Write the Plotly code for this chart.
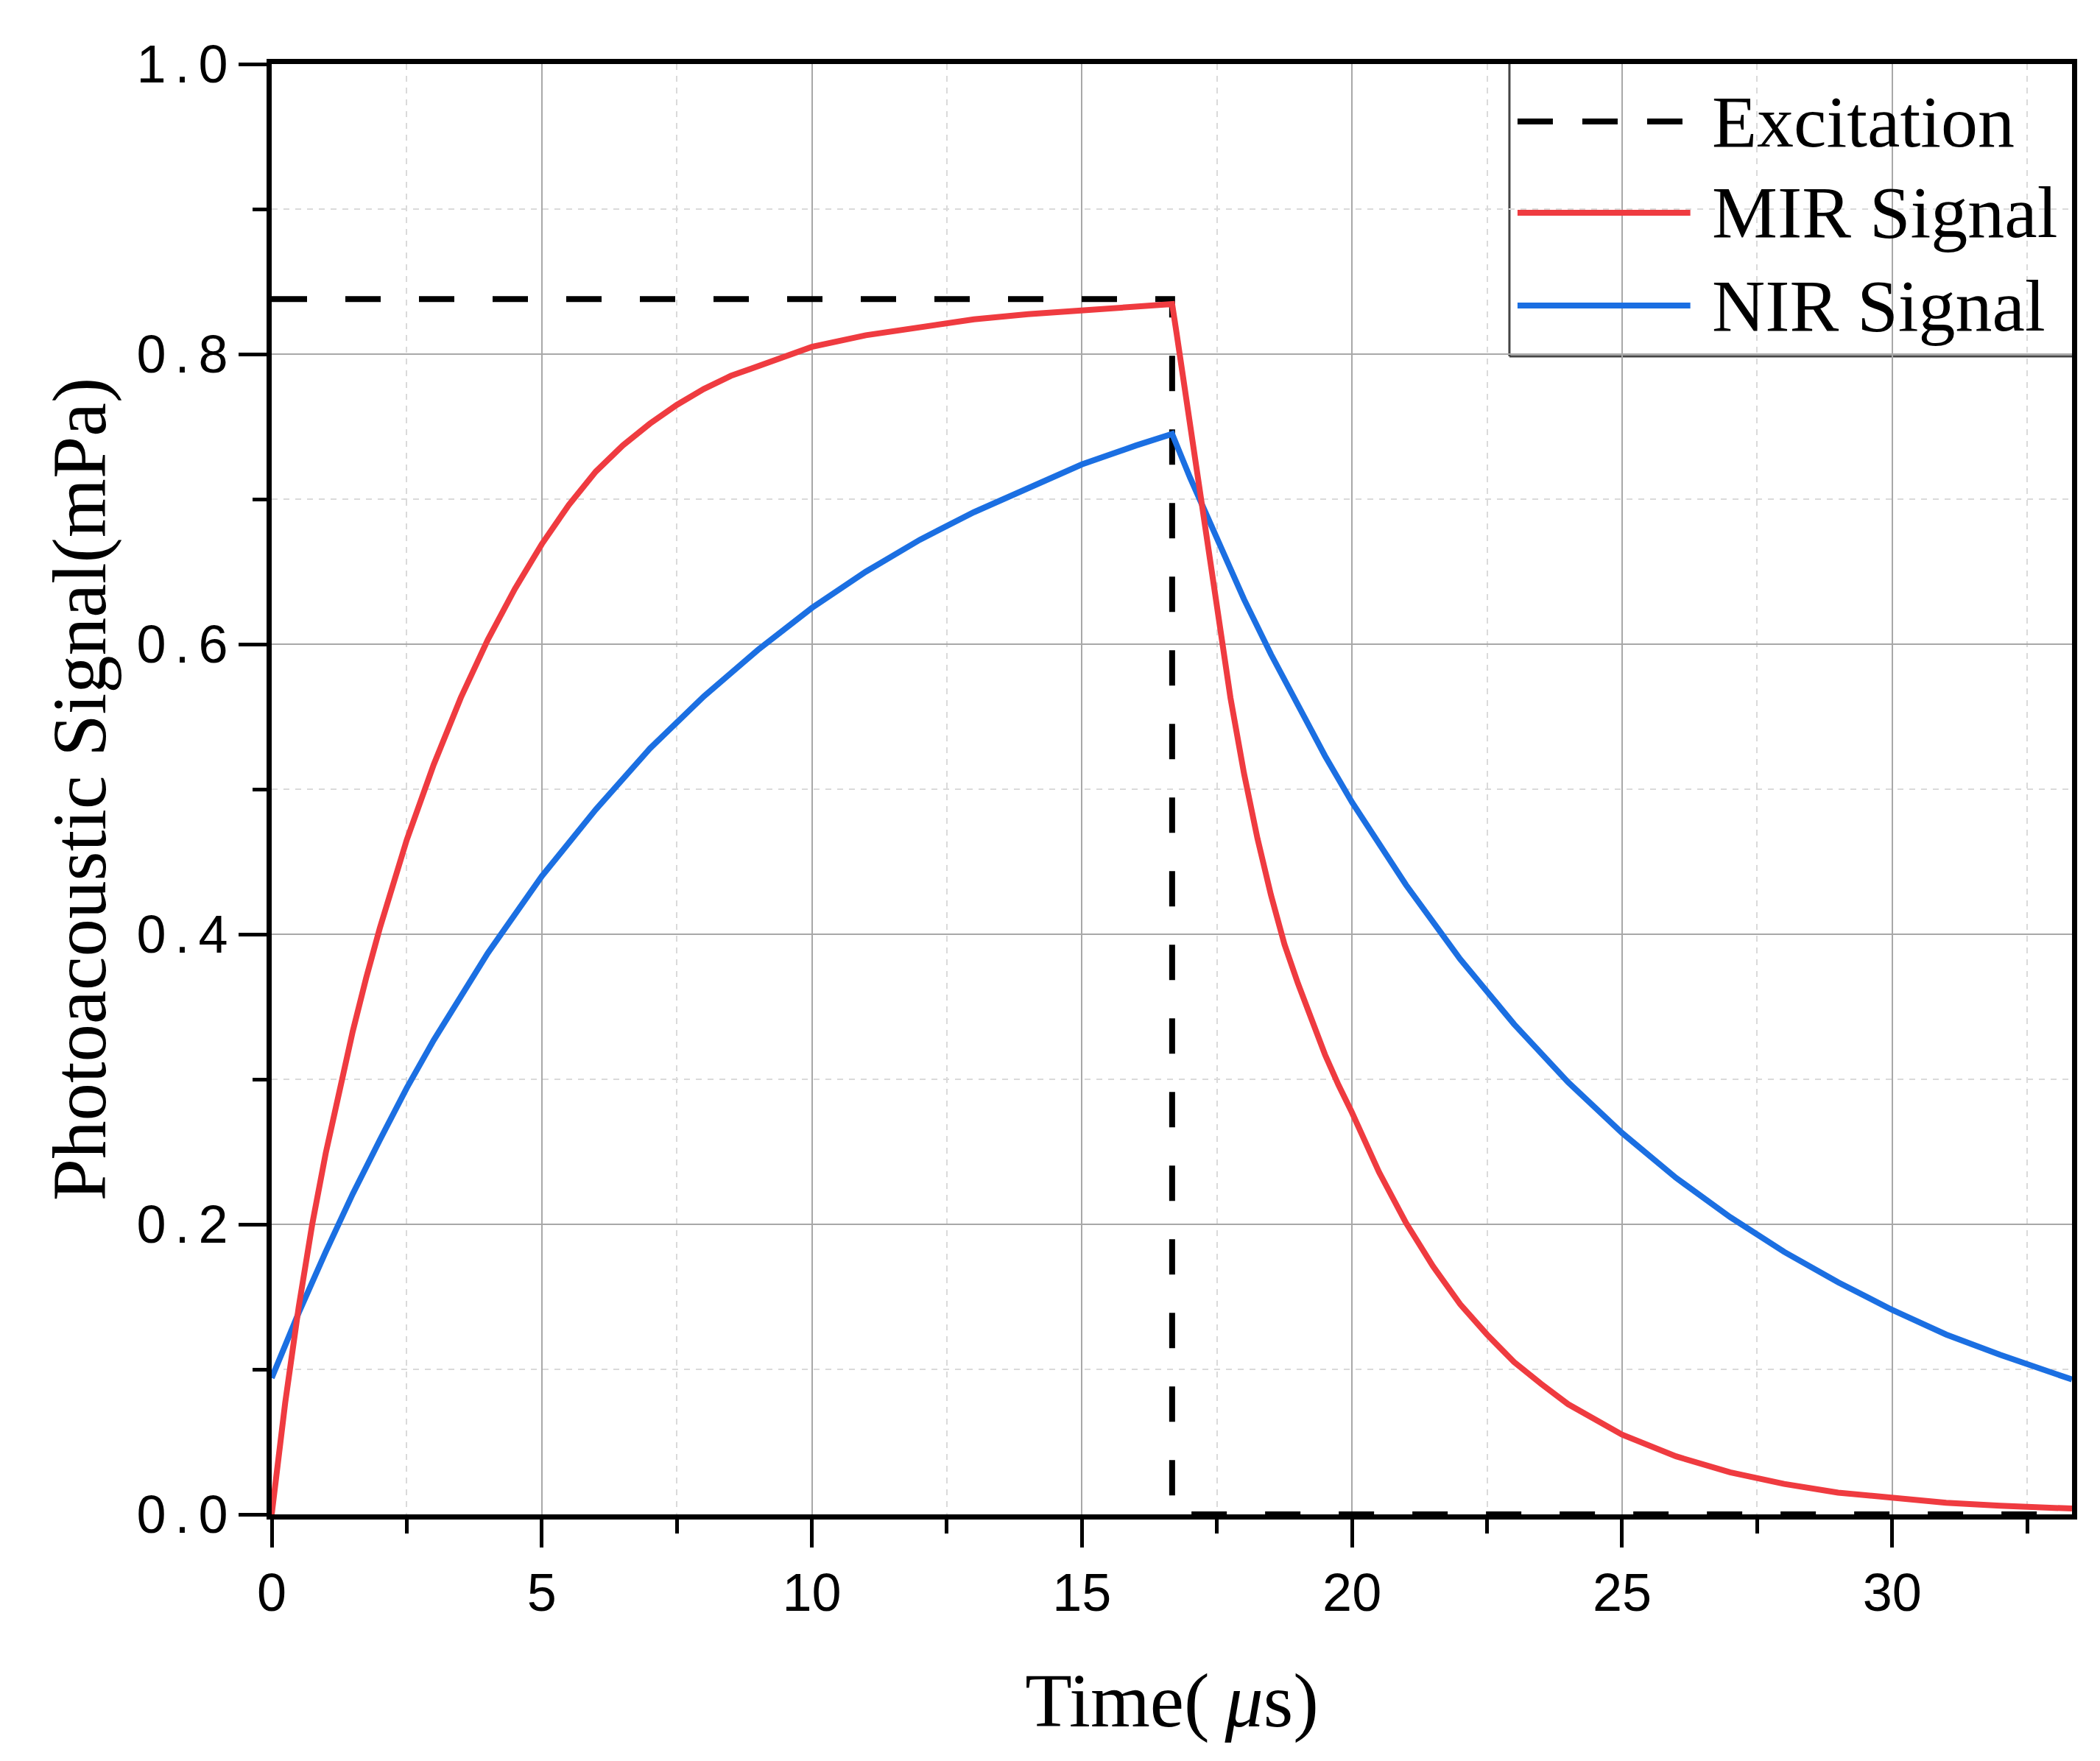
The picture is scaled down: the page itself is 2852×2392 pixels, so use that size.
import plotly.graph_objects as go

# ---------------- data ----------------
exc_t = [0, 16.67, 16.67, 33.33]
exc_y = [0.838, 0.838, 0.0, 0.0]

mir_t = [0, 0.25, 0.5, 0.75, 1.0, 1.25, 1.5, 1.75, 2.0, 2.5, 3.0, 3.5, 4.0, 4.5, 5.0,
         5.5, 6.0, 6.5, 7.0, 7.5, 8.0, 8.5, 9.0, 9.5, 10, 11, 12, 13, 14, 15, 16, 16.67,
         16.75, 17.0, 17.25, 17.5, 17.75, 18.0, 18.25, 18.5, 18.75, 19.0, 19.25, 19.5,
         19.75, 20.0, 20.5, 21.0, 21.5, 22.0, 22.5, 23.0, 23.5, 24, 25, 26, 27, 28, 29,
         30, 31, 32, 33.33]
mir_y = [0.0, 0.077, 0.143, 0.200, 0.249, 0.293, 0.333, 0.370, 0.404, 0.465, 0.517,
         0.563, 0.603, 0.638, 0.669, 0.696, 0.719, 0.737, 0.752, 0.765, 0.776, 0.785,
         0.792, 0.799, 0.805, 0.813, 0.819, 0.824, 0.8275, 0.8305, 0.833, 0.8345,
         0.815, 0.752, 0.685, 0.621, 0.563, 0.511, 0.466, 0.427, 0.393, 0.366, 0.340,
         0.317, 0.296, 0.277, 0.236, 0.201, 0.171, 0.145, 0.124, 0.105, 0.090, 0.076,
         0.055, 0.040, 0.029, 0.021, 0.015, 0.011, 0.008, 0.006, 0.004]

nir_t = [0, 0.5, 1, 1.5, 2, 2.5, 3, 4, 5, 6, 7, 8, 9, 10, 11, 12, 13, 14, 15, 16, 16.67,
         17.0, 17.5, 18, 18.5, 19, 19.5, 20, 21, 22, 23, 24, 25, 26, 27, 28, 29, 30, 31,
         32, 33.33]
nir_y = [0.094, 0.139, 0.181, 0.221, 0.258, 0.294, 0.327, 0.387, 0.440, 0.486, 0.528,
         0.564, 0.596, 0.625, 0.650, 0.672, 0.691, 0.708, 0.724, 0.737, 0.745,
         0.715, 0.672, 0.631, 0.593, 0.557, 0.523, 0.491, 0.434, 0.383, 0.338, 0.298,
         0.263, 0.232, 0.205, 0.181, 0.160, 0.141, 0.124, 0.110, 0.093]

series_names = ["Excitation", "MIR Signal", "NIR Signal"]
x_ticks = [0, 5, 10, 15, 20, 25, 30]
y_ticks = [0.0, 0.2, 0.4, 0.6, 0.8, 1.0]
y_ticktext = ["0\u2006.\u20060", "0\u2006.\u20062", "0\u2006.\u20064",
              "0\u2006.\u20066", "0\u2006.\u20068", "1\u2006.\u20060"]

RED = "#EF3B40"
BLUE = "#1B6FE2"
SERIF = "Liberation Serif, Times New Roman, serif"
SANS = "Liberation Sans, Arial, sans-serif"

fig = go.Figure()
fig.add_trace(go.Scatter(x=exc_t, y=exc_y, mode="lines", name=series_names[0],
                         line=dict(color="black", width=8, dash="48px,52px")))
fig.add_trace(go.Scatter(x=nir_t, y=nir_y, mode="lines", name=series_names[2],
                         line=dict(color=BLUE, width=8)))
fig.add_trace(go.Scatter(x=mir_t, y=mir_y, mode="lines", name=series_names[1],
                         line=dict(color=RED, width=8)))

axis_common = dict(
    showline=True, linecolor="black", linewidth=7, mirror=True,
    ticks="outside", ticklen=38, tickwidth=5, tickcolor="black",
    showgrid=True, gridcolor="#A8A8A8", gridwidth=2, zeroline=False,
    tickfont=dict(family=SANS, size=72, color="black"),
)

fig.update_xaxes(
    range=[0, 33.33], tickvals=x_ticks,
    minor=dict(dtick=2.5, tick0=0, ticks="outside", ticklen=19, tickwidth=5,
               tickcolor="black", showgrid=True, gridcolor="#DADADA",
               gridwidth=2, griddash="8px,8px"),
    title=dict(text="Time(\u2009<i>\u03bc</i>s)", standoff=72,
               font=dict(family=SERIF, size=104, color="black")),
    **axis_common,
)
fig.update_yaxes(
    range=[0, 1.0], tickvals=y_ticks, ticktext=y_ticktext,
    minor=dict(dtick=0.1, tick0=0, ticks="outside", ticklen=19, tickwidth=5,
               tickcolor="black", showgrid=True, gridcolor="#DADADA",
               gridwidth=2, griddash="8px,8px"),
    title=dict(text="Photoacoustic Signal(mPa)", standoff=10,
               font=dict(family=SERIF, size=103, color="black")),
    **axis_common,
)

# ---------------- custom legend (box with long line samples) ----------------
lx0, lx1, ly0 = 0.6875, 1.0, 0.7985
shapes = [
    dict(type="rect", xref="paper", yref="paper", x0=lx0, x1=lx1, y0=ly0, y1=1.0,
         fillcolor="white", line=dict(width=0), layer="between"),
    dict(type="line", xref="paper", yref="paper", x0=lx0, x1=lx0, y0=ly0, y1=1.0,
         line=dict(color="#444444", width=3), layer="between"),
    dict(type="line", xref="paper", yref="paper", x0=lx0, x1=lx1, y0=ly0, y1=ly0,
         line=dict(color="#444444", width=3), layer="between"),
]
leg_y = [0.9604, 0.8975, 0.8335]
leg_styles = [dict(color="black", width=8, dash="48px,40px"),
              dict(color=RED, width=8), dict(color=BLUE, width=8)]
annotations = []
for name, yy, st in zip(series_names, leg_y, leg_styles):
    shapes.append(dict(type="line", xref="paper", yref="paper", x0=0.692, x1=0.788,
                       y0=yy, y1=yy, line=st, layer="above"))
    annotations.append(dict(xref="paper", yref="paper", x=0.799, y=yy, text=name,
                            showarrow=False, xanchor="left", yanchor="middle",
                            font=dict(family=SERIF, size=100, color="black")))

fig.update_layout(
    width=2852, height=2392,
    margin=dict(l=369, r=38, t=87, b=335),
    paper_bgcolor="white", plot_bgcolor="white",
    showlegend=False, shapes=shapes, annotations=annotations,
)

fig.write_html("out.html")
